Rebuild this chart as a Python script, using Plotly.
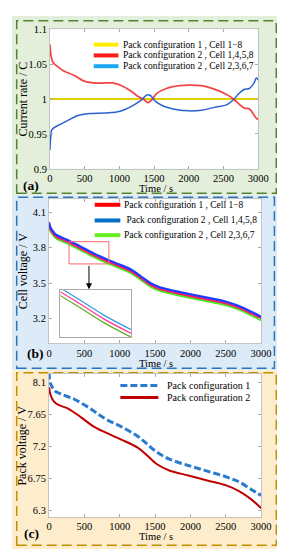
import plotly.graph_objects as go

# ---------------- data ----------------
# (a) current rate
t_a_red = [0, 15, 46, 115, 200, 345, 482, 620, 800, 896, 1034, 1171, 1263, 1355, 1410, 1470,
           1539, 1677, 1861, 2000, 2183, 2366, 2550, 2642, 2733, 2802, 2871, 2940, 2986, 3000]
rate_cfg2_1458 = [1.078, 1.062, 1.052, 1.046, 1.040, 1.034, 1.026, 1.023, 1.023, 1.023, 1.019,
                  1.011, 1.004, 0.999, 0.995, 0.999, 1.008, 1.015, 1.019, 1.020, 1.019, 1.014,
                  1.006, 1.000, 0.992, 0.987, 0.986, 0.977, 0.971, 0.973]
t_a_blue = [0, 10, 23, 60, 115, 253, 390, 528, 804, 942, 1080, 1217, 1309, 1401, 1447, 1516,
            1631, 1815, 2000, 2183, 2366, 2550, 2642, 2733, 2802, 2871, 2940, 2972, 3000]
rate_cfg2_2367 = [0.927, 0.945, 0.955, 0.959, 0.962, 0.969, 0.976, 0.979, 0.980, 0.981, 0.985,
                  0.992, 0.998, 1.006, 1.005, 0.997, 0.990, 0.985, 0.983, 0.984, 0.988, 0.992,
                  0.999, 1.009, 1.014, 1.015, 1.023, 1.030, 1.027]
t_a_yel = [0, 1000, 2000, 3000]
rate_cfg1 = [1.0, 1.0, 1.0, 1.0]

# (b) cell voltage
t_b = [0, 20, 45, 80, 112, 180, 269, 448, 627, 806, 985, 1164, 1299, 1433, 1567, 1791,
       1970, 2239, 2507, 2687, 2866, 3000]
v_cfg2_1458 = [4.016, 3.970, 3.947, 3.920, 3.905, 3.885, 3.863, 3.808, 3.752, 3.704, 3.660,
               3.613, 3.557, 3.501, 3.465, 3.432, 3.409, 3.376, 3.342, 3.306, 3.256, 3.214]
v_cfg1 = [4.001, 3.955, 3.932, 3.905, 3.890, 3.870, 3.848, 3.793, 3.737, 3.689, 3.645,
          3.598, 3.542, 3.486, 3.450, 3.417, 3.394, 3.361, 3.327, 3.291, 3.241, 3.199]
v_cfg2_2367 = [3.986, 3.940, 3.917, 3.890, 3.875, 3.855, 3.833, 3.778, 3.722, 3.674, 3.630,
               3.583, 3.527, 3.471, 3.435, 3.402, 3.379, 3.346, 3.312, 3.276, 3.226, 3.184]
zoom_t = [283, 847]
zoom_v = [3.662, 3.850]

# (c) pack voltage
t_c1 = [0, 15, 45, 90, 179, 358, 582, 806, 1030, 1254, 1388, 1522, 1701, 1970, 2239, 2507,
        2687, 2866, 3000]
pack_cfg1 = [8.24, 8.10, 8.03, 7.97, 7.93, 7.86, 7.73, 7.58, 7.47, 7.34, 7.23, 7.12, 7.02,
             6.93, 6.85, 6.77, 6.70, 6.59, 6.51]
t_c2 = [0, 22, 67, 134, 269, 448, 627, 806, 1030, 1254, 1388, 1522, 1701, 1970, 2239, 2507,
        2687, 2866, 3000]
pack_cfg2 = [8.03, 7.92, 7.83, 7.78, 7.73, 7.61, 7.48, 7.39, 7.29, 7.18, 7.07, 6.95, 6.86,
             6.79, 6.72, 6.65, 6.57, 6.45, 6.33]

x_ticks = [0, 500, 1000, 1500, 2000, 2500, 3000]
a_ticks = [0.9, 0.95, 1.0, 1.05, 1.1]
a_ticklabels = ["0.9", "0.95", "1", "1.05", "1.1"]
b_ticks = [3.2, 3.5, 3.8, 4.1]
c_ticks = [6.3, 6.75, 7.2, 7.65, 8.1]

leg_a = ["Pack configuration 1 , Cell 1\u22128", "Pack configuration 2 , Cell 1,4,5,8",
         "Pack configuration 2 , Cell 2,3,6,7"]
leg_b = ["Pack configuration 1 , Cell 1\u22128", " Pack configuration 2 , Cell 1,4,5,8",
         "Pack configuration 2 , Cell 2,3,6,7"]
leg_c = ["Pack configuration 1", "Pack configuration 2"]

# ---------------- layout helpers ----------------
W, H = 285, 550
FONT = "Liberation Serif"


def px(x):
    return x / W


def py(y):
    return 1 - y / H


fig = go.Figure()

# (a)
fig.add_trace(go.Scatter(x=t_a_yel, y=rate_cfg1, mode="lines", line=dict(color="#e2cf00", width=2),
                         xaxis="x", yaxis="y", showlegend=False))
fig.add_trace(go.Scatter(x=t_a_red, y=rate_cfg2_1458, mode="lines",
                         line=dict(color="rgba(240,50,50,0.9)", width=1.8, shape="spline"),
                         xaxis="x", yaxis="y", showlegend=False))
fig.add_trace(go.Scatter(x=t_a_blue, y=rate_cfg2_2367, mode="lines",
                         line=dict(color="#2a62d0", width=1.5, shape="spline"),
                         xaxis="x", yaxis="y", showlegend=False))

# (b)
fig.add_trace(go.Scatter(x=t_b, y=v_cfg2_2367, mode="lines", line=dict(color="#44ee22", width=2.2, shape="spline"),
                         xaxis="x2", yaxis="y2", showlegend=False))
fig.add_trace(go.Scatter(x=t_b, y=v_cfg1, mode="lines", line=dict(color="#ff1a66", width=2.2, shape="spline"),
                         xaxis="x2", yaxis="y2", showlegend=False))
fig.add_trace(go.Scatter(x=t_b, y=v_cfg2_1458, mode="lines", line=dict(color="#1a3cff", width=2.2, shape="spline"),
                         xaxis="x2", yaxis="y2", showlegend=False))
# inset
fig.add_trace(go.Scatter(x=t_b, y=v_cfg2_2367, mode="lines", line=dict(color="#66aa22", width=1.2, shape="spline"),
                         xaxis="x4", yaxis="y4", showlegend=False))
fig.add_trace(go.Scatter(x=t_b, y=v_cfg1, mode="lines", line=dict(color="#ff3399", width=1.2, shape="spline"),
                         xaxis="x4", yaxis="y4", showlegend=False))
fig.add_trace(go.Scatter(x=t_b, y=v_cfg2_1458, mode="lines", line=dict(color="#3399dd", width=1.2, shape="spline"),
                         xaxis="x4", yaxis="y4", showlegend=False))

# (c)
fig.add_trace(go.Scatter(x=t_c1, y=pack_cfg1, mode="lines",
                         line=dict(color="#2a7bd0", width=3, dash="7px,3px", shape="spline"),
                         xaxis="x3", yaxis="y3", showlegend=False))
fig.add_trace(go.Scatter(x=t_c2, y=pack_cfg2, mode="lines",
                         line=dict(color="#c00000", width=2, shape="spline"),
                         xaxis="x3", yaxis="y3", showlegend=False))

tickfont = dict(family=FONT, size=10.5, color="black")
ax_common = dict(showline=True, linecolor="#c4c4c4", linewidth=1, mirror="ticks", ticks="inside",
                 ticklen=3, tickcolor="#aaaaaa", showgrid=False, zeroline=False, tickfont=tickfont)

# plot area pixel boxes: (left, top, right, bottom)
box_a = (41, 16.5, 260, 159)
box_b = (40, 190, 263, 337)
box_c = (40, 368, 263, 514)
box_i = (52, 283, 126, 331)


def dom(b):
    return [px(b[0]), px(b[2])], [py(b[3]), py(b[1])]


xa, ya = dom(box_a)
xb, yb = dom(box_b)
xc, yc = dom(box_c)
xi, yi = dom(box_i)

fig.update_layout(
    width=W, height=H, margin=dict(l=0, r=0, t=0, b=0),
    paper_bgcolor="white", plot_bgcolor="white",
    font=dict(family=FONT, size=10, color="black"),
    showlegend=False,
    xaxis=dict(domain=xa, anchor="y", range=[0, 3000], tickvals=x_ticks, **ax_common),
    yaxis=dict(domain=ya, anchor="x", range=[0.9, 1.1], tickvals=a_ticks, ticktext=a_ticklabels, **ax_common),
    xaxis2=dict(domain=xb, anchor="y2", range=[0, 3000], tickvals=x_ticks, **ax_common),
    yaxis2=dict(domain=yb, anchor="x2", range=[2.99, 4.21], tickvals=b_ticks, **ax_common),
    xaxis3=dict(domain=xc, anchor="y3", range=[0, 3000], tickvals=x_ticks, **ax_common),
    yaxis3=dict(domain=yc, anchor="x3", range=[6.21, 8.22], tickvals=c_ticks, **ax_common),
    xaxis4=dict(domain=xi, anchor="y4", range=zoom_t, showticklabels=False, ticks="",
                showline=True, linecolor="#aaaaaa", mirror=True, showgrid=False, zeroline=False),
    yaxis4=dict(domain=yi, anchor="x4", range=zoom_v, showticklabels=False, ticks="",
                showline=True, linecolor="#aaaaaa", mirror=True, showgrid=False, zeroline=False),
)

shapes = []
# panel backgrounds and dashed borders
panels = [
    ((1, 3, 284, 186), (6, 8, 279, 184), "rgb(227,239,218)", "#548235"),
    ((1, 186, 284, 364.5), (6, 188, 277, 362.5), "rgb(221,234,247)", "#2e75b6"),
    ((1, 364.5, 284, 547), (6, 367, 279, 543), "rgb(253,237,204)", "#bf9000"),
]
for bg, bd, fc, lc in panels:
    shapes.append(dict(type="rect", xref="paper", yref="paper", x0=px(bg[0]), x1=px(bg[2]),
                       y0=py(bg[3]), y1=py(bg[1]), fillcolor=fc, line=dict(width=0), layer="below"))
    shapes.append(dict(type="rect", xref="paper", yref="paper", x0=px(bd[0]), x1=px(bd[2]),
                       y0=py(bd[3]), y1=py(bd[1]), fillcolor="rgba(0,0,0,0)",
                       line=dict(color=lc, width=1.5, dash="10px,5px"), layer="below"))
for b in (box_a, box_b, box_c):
    shapes.append(dict(type="rect", xref="paper", yref="paper", x0=px(b[0]), x1=px(b[2]),
                       y0=py(b[3]), y1=py(b[1]), fillcolor="white", line=dict(width=0), layer="below"))

# zoom rectangle in (b)
shapes.append(dict(type="rect", xref="x2", yref="y2", x0=zoom_t[0], x1=zoom_t[1], y0=zoom_v[0], y1=zoom_v[1],
                   line=dict(color="#ff6666", width=1), fillcolor="rgba(0,0,0,0)"))

annotations = []


def legend_rows(x0, x1, xt, ys, labels, colors, widths, dashes, size=9.5):
    for y, lab, c, w, d in zip(ys, labels, colors, widths, dashes):
        shapes.append(dict(type="line", xref="paper", yref="paper", x0=px(x0), x1=px(x1), y0=py(y), y1=py(y),
                           line=dict(color=c, width=w, dash=d)))
        annotations.append(dict(xref="paper", yref="paper", x=px(xt), y=py(y), text=lab, showarrow=False,
                                xanchor="left", yanchor="middle", font=dict(family=FONT, size=size, color="black")))


legend_rows(87, 113, 116, [32.3, 43.3, 54.3], leg_a, ["#ffee00", "#ff1a1a", "#1aa8f0"], [4, 4, 4],
            ["solid"] * 3)
legend_rows(88, 115, 117, [195.7, 211.7, 226.7], leg_b, ["#ff0000", "#0070c8", "#66ee22"], [4, 4, 4],
            ["solid"] * 3)
legend_rows(115, 155, 162, [380, 392.3], leg_c, ["#2a7bd0", "#c00000"], [3, 3], ["7px,3px", "solid"],
            size=10)

# axis titles
for (x, y, txt, ang) in [(152, 179.5, "Time / s", 0), (153, 357.5, "Time / s", 0), (152, 534.5, "Time / s", 0),
                         (13, 88, "Current rate / C", -90), (12, 263, "Cell voltage / V", -90),
                         (12, 441, "Pack voltage / V", -90)]:
    annotations.append(dict(xref="paper", yref="paper", x=px(x), y=py(y), text=txt, showarrow=False,
                            xanchor="center", yanchor="middle", textangle=ang, borderpad=0,
                            font=dict(family=FONT, size=10.5 if ang == 0 else 12, color="black")))

# panel labels
for (x, y, txt) in [(21, 176, "(a)"), (26, 347, "(b)"), (22, 531, "(c)")]:
    annotations.append(dict(xref="paper", yref="paper", x=px(x), y=py(y), text="<b>" + txt + "</b>",
                            showarrow=False, xanchor="center", yanchor="middle",
                            font=dict(family=FONT, size=13.5, color="black")))

# arrow from zoom rectangle to inset
annotations.append(dict(xref="paper", yref="paper", x=px(82), y=py(282), ax=0, ay=-25, text="",
                        showarrow=True, arrowhead=2, arrowsize=1.2, arrowwidth=1, arrowcolor="black"))

fig.update_layout(shapes=shapes, annotations=annotations)
fig.write_html("out.html")
